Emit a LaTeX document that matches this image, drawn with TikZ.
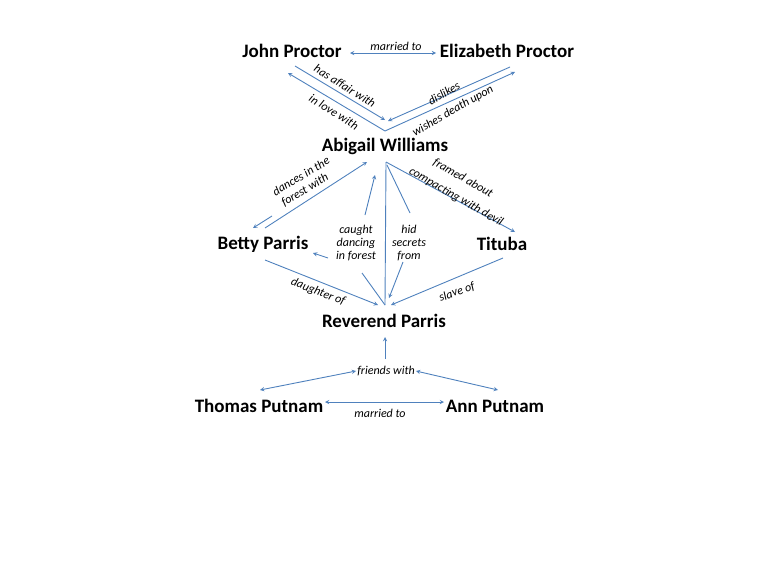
\documentclass[tikz,border=0pt]{standalone}
\usepackage{fontspec}
\setmainfont{Carlito}
\definecolor{lc}{RGB}{79,129,189}
\begin{document}
\begin{tikzpicture}[x=1pt,y=-1pt,
 nm/.style={font=\fontsize{19}{21}\selectfont\bfseries},
 lb/.style={font=\fontsize{12}{13}\selectfont\itshape, align=center, inner sep=1pt},
 ar/.style={draw=lc, line width=0.9pt, -stealth},
 ln/.style={draw=lc, line width=0.9pt},
 bar/.style={draw=lc, line width=0.9pt, stealth-stealth}]
\useasboundingbox (0,0) rectangle (768,576);
\node[nm] (jp) at (292,51) {John Proctor};
\node[nm] (ep) at (507,51) {Elizabeth Proctor};
\node[nm] (aw) at (385,146) {Abigail Williams};
\node[nm] (bp) at (263,244) {Betty Parris};
\node[nm] (ti) at (502,244) {Tituba};
\node[nm] (rp) at (384,321) {Reverend Parris};
\node[nm] (tp) at (259,406) {Thomas Putnam};
\node[nm] (ap) at (495,406) {Ann Putnam};
\coordinate (a1) at (385,131);
\coordinate (a2) at (386,162);
\coordinate (r1) at (385,305);
% top
\draw[bar] (350,53) -- (436,53);
\node[lb] at (396,46) {married to};
\draw[ar] (295,66) -- (385,120);
\draw[ar] (a1) -- (288,73);
\draw[ar] (510,67) -- (388,121);
\draw[ar] (a1) -- (515,72);
\node[lb,rotate=-32] at (345,86) {has affair with};
\node[lb,rotate=-32] at (334,112) {in love with};
\node[lb,rotate=30] at (444,93) {dislikes};
\node[lb,rotate=30] at (453,111) {wishes death upon};
% middle
\draw[ar] (265,228) -- (367,162);
\draw[ar] (272,216) -- (253,228);
\node[lb,rotate=31] at (301,176) {dances in the};
\node[lb,rotate=31] at (305,190) {forest with};
\draw[ar] (a2) -- (515,232);
\node[lb,rotate=-30] at (463,178) {framed about};
\node[lb,rotate=-30] at (456,197) {compacting with devil};
\draw[ln] (a2) -- (r1);
\draw[ln] (387,165) -- (410,213);
\draw[ar] (403,262) -- (389,298);
\node[lb] at (409,243) {hid\\secrets\\from};
\draw[ar] (365,215) -- (375,175);
\draw[ln] (362,273) -- (r1);
\draw[ar] (328,258) -- (313,253);
\node[lb] at (356,243) {caught\\dancing\\in forest};
\draw[ar] (265,260) -- (378,305);
\node[lb,rotate=-21] at (318,292) {daughter of};
\draw[ar] (503,258) -- (391,305);
\node[lb,rotate=20] at (457,292) {slave of};
% bottom
\node[lb] (fw) at (386,371) {friends with};
\draw[ar] (385,359) -- (385,337);
\draw[bar] (fw.west) -- (260,390);
\draw[bar] (fw.east) -- (498,390);
\draw[bar] (325,402) -- (444,402);
\node[lb] at (380,413) {married to};
\end{tikzpicture}
\end{document}
